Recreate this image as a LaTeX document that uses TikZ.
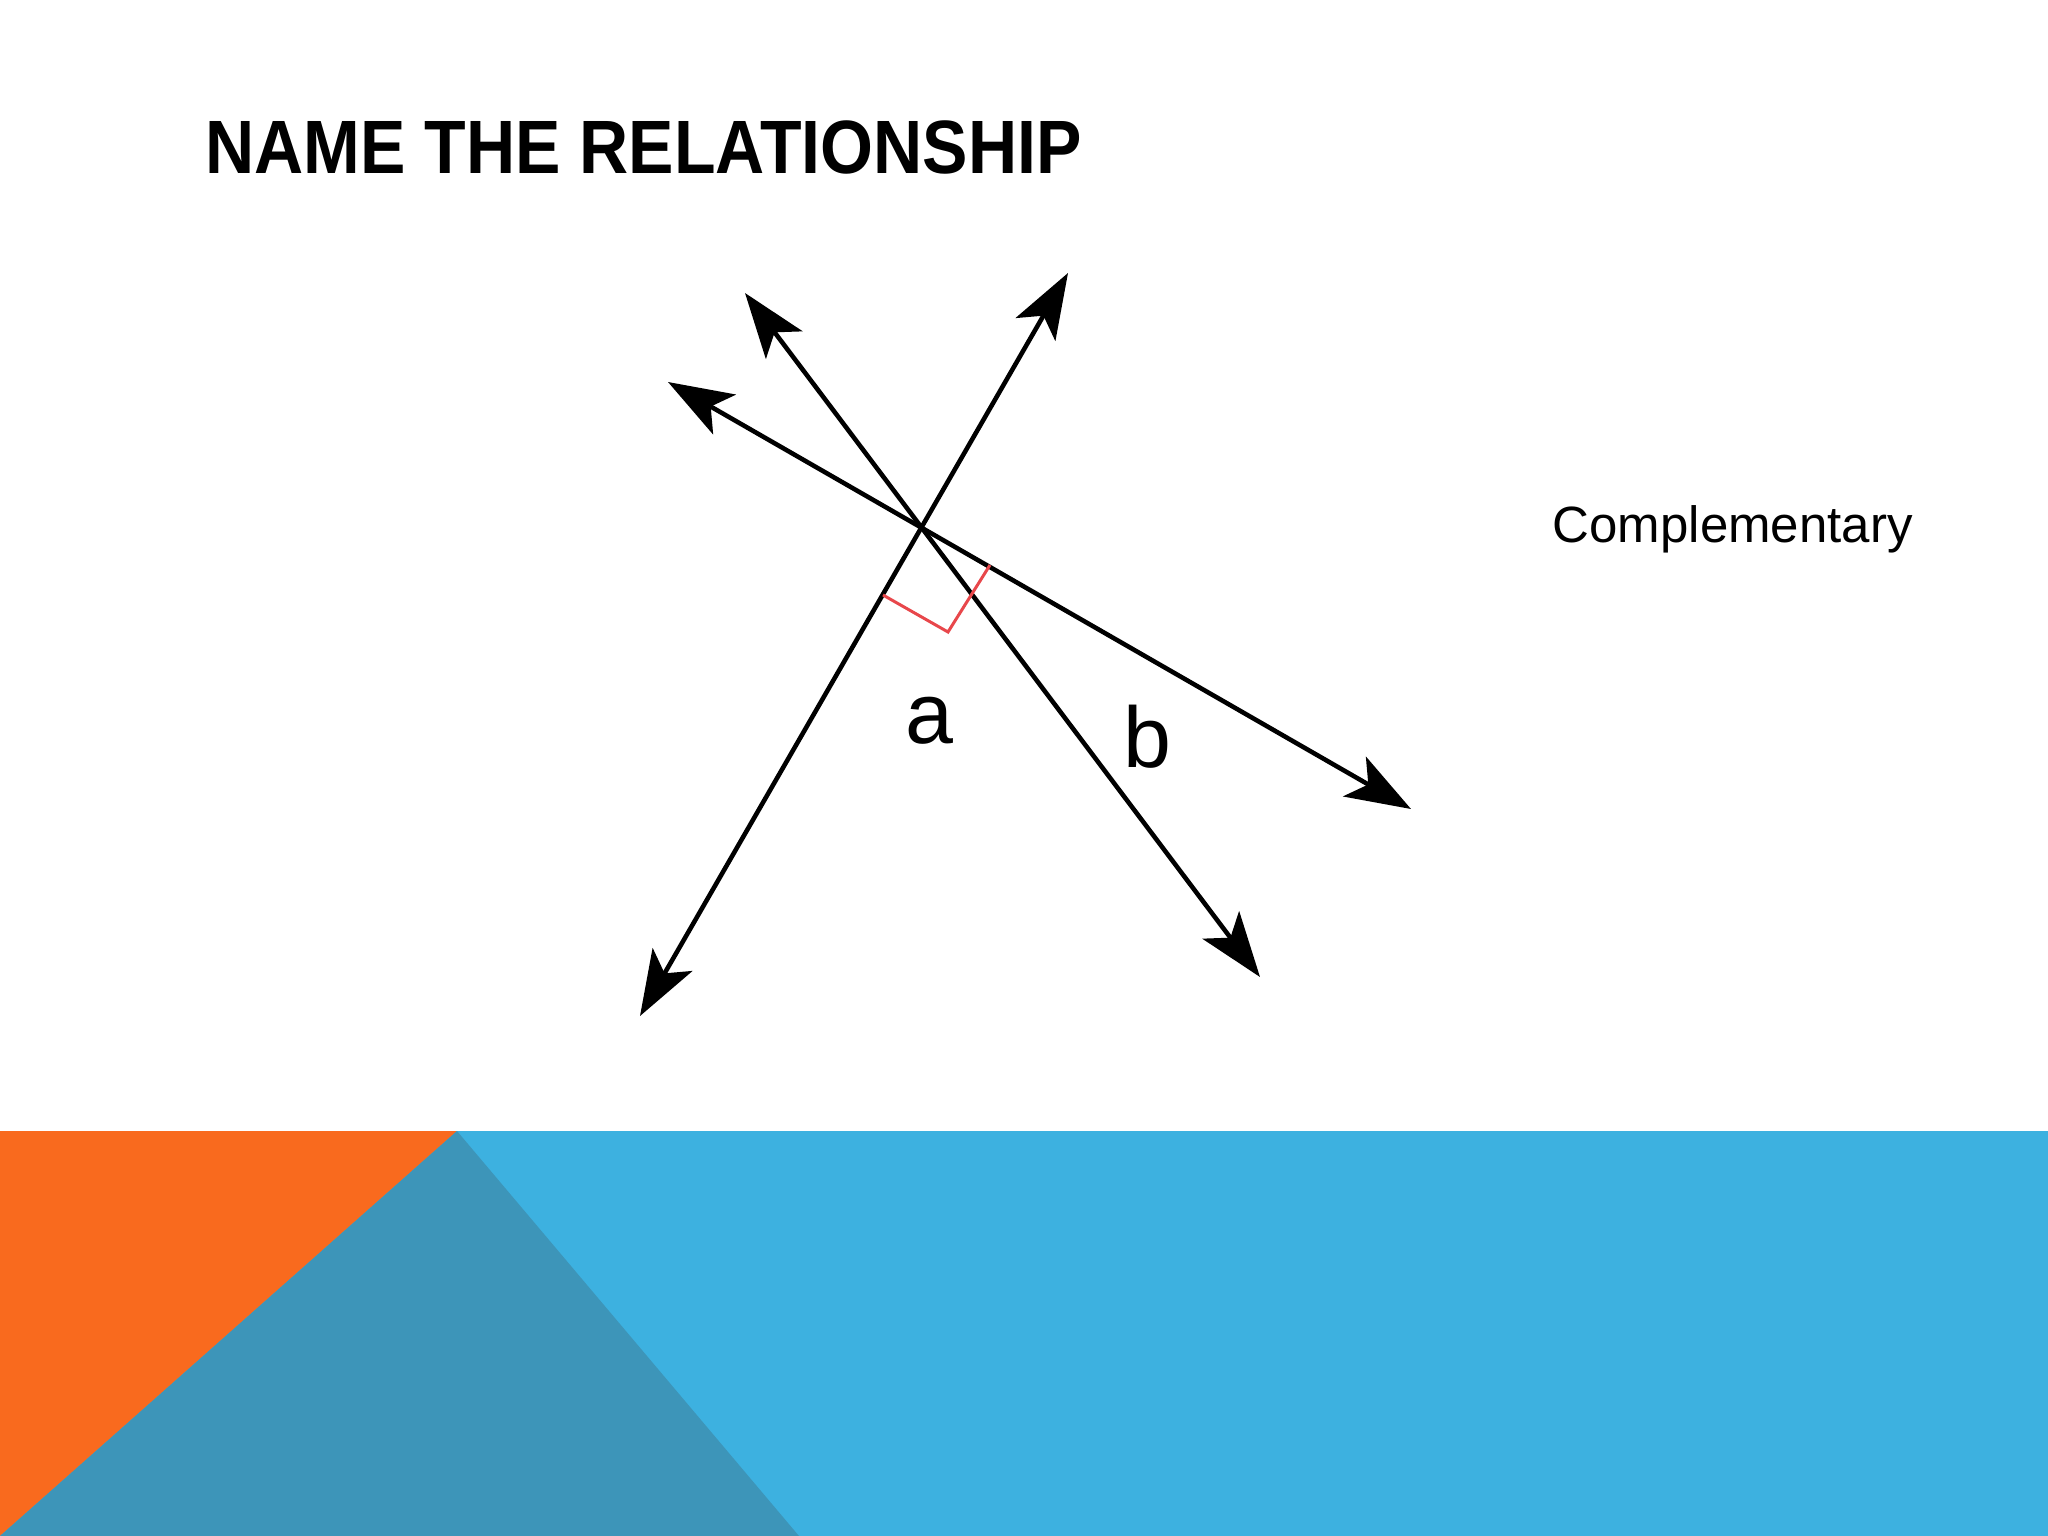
\documentclass[tikz,border=0pt]{standalone}
\usepackage{fontspec}
\setmainfont{Liberation Sans}
\usetikzlibrary{arrows.meta}
\definecolor{slideorange}{HTML}{F96A1E}
\definecolor{slideteal}{HTML}{3D95B9}
\definecolor{slideblue}{HTML}{3DB1E0}
\definecolor{markred}{HTML}{E8474B}
\tikzset{
  ray/.style={line width=1.3pt, {Stealth[length=18.5pt,width=13pt,inset=4.5pt]}-{Stealth[length=18.5pt,width=13pt,inset=4.5pt]}},
  letter/.style={anchor=base west, inner sep=0pt, font=\fontsize{24.5}{28}\selectfont}
}
\begin{document}
\begin{tikzpicture}[x=0.01cm, y=-0.01cm]
  \useasboundingbox (0,0) rectangle (2048,1536);
  \fill [white] (0,0) rectangle (2048,1536);
  \fill [slideblue] (0,1131) rectangle (2048,1536);
  \fill [slideorange] (0,1131) -- (457,1131) -- (0,1536) -- cycle;
  \fill [slideteal] (457,1131) -- (0,1536) -- (799,1536) -- cycle;
  \node (title) [anchor=base west, inner sep=0pt, xscale=0.9,
    font=\bfseries\fontsize{21.5}{26}\selectfont] at (205,173) {NAME THE RELATIONSHIP};
  \coordinate (p1) at (640,1016);
  \coordinate (q1) at (1068,273);
  \coordinate (p2) at (745,293);
  \coordinate (q2) at (1260,977);
  \coordinate (p3) at (668,382);
  \coordinate (q3) at (1411,809);
  \draw [ray] (p1) -- (q1);
  \draw [ray] (p2) -- (q2);
  \draw [ray] (p3) -- (q3);
  \coordinate (m1) at (883,595);
  \coordinate (mc) at (948,632);
  \coordinate (m3) at (990,565);
  \draw [markred, line width=0.85pt] (m1) -- (mc) -- (m3);
  \node (a) [letter] at (905,743) {a};
  \node (b) [letter] at (1123,767) {b};
  \node (answer) [anchor=base west, inner sep=0pt, font=\fontsize{14.5}{17}\selectfont]
    at (1552,542) {Complementary};
\end{tikzpicture}
\end{document}
